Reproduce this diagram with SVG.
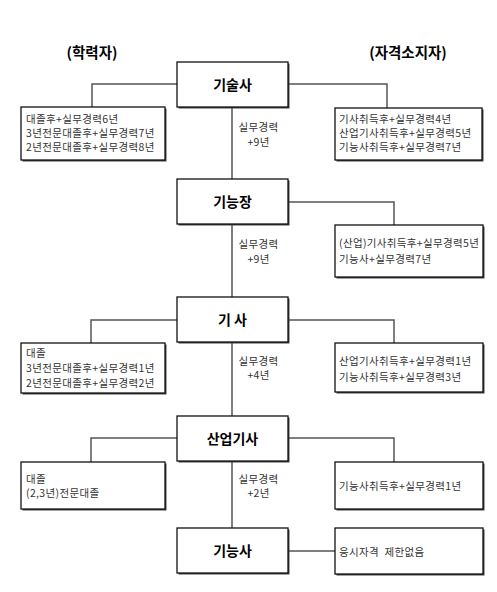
<svg xmlns="http://www.w3.org/2000/svg" width="497" height="592" viewBox="0 0 497 592">
<style>
.bg{fill:#fff}
.box{fill:#fff;stroke:#111;stroke-width:1.3}
.sh{fill:#444}
.conn{fill:none;stroke:#555;stroke-width:1.5}
.title{font-family:"Noto Sans CJK KR","Noto Sans",sans-serif;font-weight:bold;font-size:14px;fill:#000;text-anchor:middle}
.head{font-family:"Noto Sans CJK KR","Noto Sans",sans-serif;font-weight:bold;font-size:14.5px;fill:#000;text-anchor:middle}
.t{font-family:"Noto Sans CJK KR","Noto Sans",sans-serif;font-size:10.5px;fill:#333;letter-spacing:0.35px}
.c{font-family:"Noto Sans CJK KR","Noto Sans",sans-serif;font-size:10.5px;fill:#333;text-anchor:middle;letter-spacing:0.3px}
</style>
<rect class="bg" x="0" y="0" width="497" height="592"/>
<g id="connectors">
<line class="conn" x1="232" y1="107" x2="232" y2="528"/>
<polyline class="conn" points="177,84 92,84 92,107"/>
<polyline class="conn" points="288,84 387,84 387,108"/>
<polyline class="conn" points="288,202 394,202 394,225"/>
<polyline class="conn" points="177,320 91,320 91,343"/>
<polyline class="conn" points="288,320 394,320 394,343"/>
<polyline class="conn" points="177,438 91,438 91,462"/>
<polyline class="conn" points="288,438 394,438 394,462"/>
<line class="conn" x1="288" y1="551" x2="335" y2="551"/>
</g>
<g id="headers">
<text class="head" x="92" y="58">(학력자)</text>
<text class="head" x="408" y="58">(자격소지자)</text>
</g>
<g id="n-gisulsa">
<rect class="sh" x="178.5" y="63.5" width="111" height="45"/>
<rect class="box" x="177" y="62" width="111" height="45"/>
<text class="title" x="232.5" y="90">기술사</text>
</g>
<g id="n-ginungjang">
<rect class="sh" x="178.5" y="180.5" width="111" height="45"/>
<rect class="box" x="177" y="179" width="111" height="45"/>
<text class="title" x="232.5" y="207">기능장</text>
</g>
<g id="n-gisa">
<rect class="sh" x="178.5" y="298.5" width="111" height="45"/>
<rect class="box" x="177" y="297" width="111" height="45"/>
<text class="title" x="232.5" y="325" xml:space="preserve">기 사</text>
</g>
<g id="n-saneopgisa">
<rect class="sh" x="178.5" y="417.5" width="111" height="45"/>
<rect class="box" x="177" y="416" width="111" height="45"/>
<text class="title" x="232.5" y="443.5">산업기사</text>
</g>
<g id="n-ginungsa">
<rect class="sh" x="178.5" y="529.5" width="111" height="45"/>
<rect class="box" x="177" y="528" width="111" height="45"/>
<text class="title" x="232.5" y="556">기능사</text>
</g>
<g id="req-labels">
<text class="c" x="258.5" y="131">실무경력</text>
<text class="c" x="258.5" y="146">+9년</text>
<text class="c" x="258.5" y="248">실무경력</text>
<text class="c" x="258.5" y="263">+9년</text>
<text class="c" x="258.5" y="365">실무경력</text>
<text class="c" x="258.5" y="379">+4년</text>
<text class="c" x="258.5" y="483">실무경력</text>
<text class="c" x="258.5" y="497">+2년</text>
</g>
<g id="l1">
<rect class="sh" x="22.5" y="108.5" width="144" height="53"/>
<rect class="box" x="21" y="107" width="144" height="53"/>
<text class="t" x="26" y="123">대졸후+실무경력6년</text>
<text class="t" x="26" y="137">3년전문대졸후+실무경력7년</text>
<text class="t" x="26" y="151">2년전문대졸후+실무경력8년</text>
</g>
<g id="r1">
<rect class="sh" x="336.5" y="109.5" width="147" height="52"/>
<rect class="box" x="335" y="108" width="147" height="52"/>
<text class="t" x="339" y="123">기사취득후+실무경력4년</text>
<text class="t" x="339" y="137">산업기사취득후+실무경력5년</text>
<text class="t" x="339" y="151">기능사취득후+실무경력7년</text>
</g>
<g id="r2">
<rect class="sh" x="336.5" y="226.5" width="148" height="52"/>
<rect class="box" x="335" y="225" width="148" height="52"/>
<text class="t" x="339" y="247">(산업)기사취득후+실무경력5년</text>
<text class="t" x="339" y="263">기능사+실무경력7년</text>
</g>
<g id="l3">
<rect class="sh" x="22.5" y="344.5" width="144" height="50"/>
<rect class="box" x="21" y="343" width="144" height="50"/>
<text class="t" x="26" y="357">대졸</text>
<text class="t" x="26" y="372">3년전문대졸후+실무경력1년</text>
<text class="t" x="26" y="387">2년전문대졸후+실무경력2년</text>
</g>
<g id="r3">
<rect class="sh" x="336.5" y="344.5" width="148" height="49"/>
<rect class="box" x="335" y="343" width="148" height="49"/>
<text class="t" x="339" y="365">산업기사취득후+실무경력1년</text>
<text class="t" x="339" y="381">기능사취득후+실무경력3년</text>
</g>
<g id="l4">
<rect class="sh" x="22.5" y="463.5" width="144" height="47"/>
<rect class="box" x="21" y="462" width="144" height="47"/>
<text class="t" x="26" y="483">대졸</text>
<text class="t" x="26" y="497">(2,3년)전문대졸</text>
</g>
<g id="r4">
<rect class="sh" x="336.5" y="463.5" width="148" height="47"/>
<rect class="box" x="335" y="462" width="148" height="47"/>
<text class="t" x="339" y="490">기능사취득후+실무경력1년</text>
</g>
<g id="r5">
<rect class="sh" x="336.5" y="529.5" width="148" height="46"/>
<rect class="box" x="335" y="528" width="148" height="46"/>
<text class="t" x="339" y="556" xml:space="preserve">응시자격  제한없음</text>
</g>
</svg>
